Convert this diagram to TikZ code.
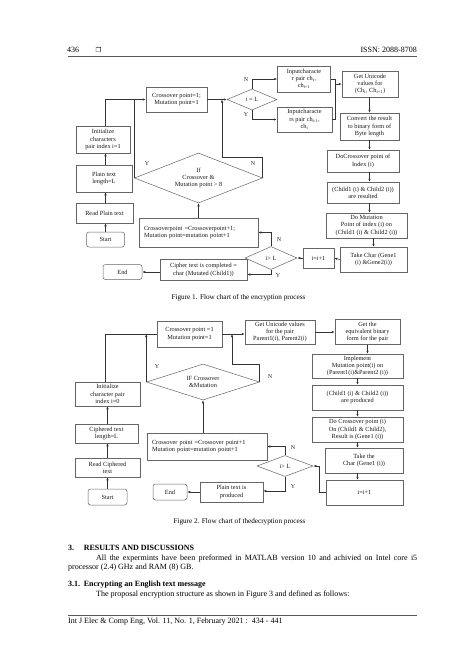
\documentclass[tikz,border=0pt]{standalone}
\usepackage{fontspec}
\setmainfont{Liberation Serif}
\newfontfamily\djv{DejaVu Sans}
\usetikzlibrary{shapes.geometric,arrows.meta}
\newcommand\fcs{\fontsize{6.3}{7.3}\selectfont}
\newcommand\lblf{\fontsize{6}{7}\selectfont}
\newcommand\bodyf{\fontsize{8}{9.2}\selectfont}
\newcommand\capf{\fontsize{7.2}{8.6}\selectfont}
\tikzset{
  box/.style={draw=black!60, line width=0.5pt, align=center, inner sep=0pt, font=\fcs, text=black!90},
  rbox/.style={box, rounded corners=2.5pt},
  lbox/.style={box, align=left, inner xsep=5pt},
  dia/.style={draw=black!60, line width=0.5pt, diamond, inner sep=0pt, align=center, font=\fcs, text=black!90},
  conna/.style={color=black!80, line width=0.55pt, -{Latex[length=3pt,width=2.4pt]}},
  conn/.style={color=black!80, line width=0.55pt},
  lbl/.style={font=\lblf, text=black!85, inner sep=0pt},
  txt/.style={anchor=base west, inner sep=0pt, font=\bodyf},
  hrule/.style={draw=black!65, line width=0.9pt}
}
\begin{document}
\begin{tikzpicture}[x=1pt,y=-1pt]
\useasboundingbox (0,0) rectangle (474,670);
\fill[white] (0,0) rectangle (474,670);

% ---------- header ----------
\node[txt] (pg) at (67,52.5) {436};
\node[anchor=base west, inner sep=0pt, font=\djv\fontsize{6.5}{7}\selectfont] (sq) at (95.5,52.5) {❐};
\node[anchor=base east, inner sep=0pt, font=\bodyf] (issn) at (417,52.5) {ISSN: 2088-8708};
\draw[hrule] (68,56.5) -- (417,56.5);

% ================= FIGURE 1 =================
\node[box, minimum width=61pt, minimum height=25pt] (cp1) at (176.5,99.5) {Crossover point=1;\\Mutation point=1};
\node[dia, aspect=2.4, minimum width=50pt, minimum height=21pt] (iL) at (252,99.5) {i = L};
\node[box, minimum width=53pt, minimum height=26pt] (in1) at (304,79) {Inputcharacte\\r pair ch\textsubscript{i},\\ch\textsubscript{i+1}};
\node[box, minimum width=55pt, minimum height=25pt] (in2) at (304.5,119.5) {Inputcharacte\\rs pair ch\textsubscript{i-1},\\ch\textsubscript{i}};
\node[box, minimum width=56pt, minimum height=26pt] (uni) at (370,84) {Get Unicode\\values for\\(Ch\textsubscript{i}, Ch\textsubscript{i+1})};
\node[box, minimum width=59pt, minimum height=27pt] (conv) at (369.5,126.5) {Convert the result\\to binary form of\\Byte length};
\node[box, minimum width=72pt, minimum height=22pt] (docr) at (363,161) {DoCrossover point of\\Index (i)};
\node[box, minimum width=72pt, minimum height=21pt] (child) at (363,192.5) {(Child1 (i) \& Child2 (i))\\are resulted};
\node[box, minimum width=81pt, minimum height=25pt] (mut) at (366.5,225.5) {Do Mutation\\Point of index (i) on\\(Child1 (i) \& Child2 (i))};
\node[box, minimum width=67pt, minimum height=25pt] (take) at (373.5,259.5) {Take Char (Gene1\\(i) \&Gene2(i))};
\node[box, minimum width=31pt, minimum height=20pt] (inc) at (318.5,258) {i=i+1};
\node[dia, aspect=2.4, minimum width=52pt, minimum height=23pt] (iL2) at (271,258) {i> L};
\node[lbox, text width=109pt, minimum height=29pt] (cpinc) at (198.5,232.5) {Crossoverpoint =Crossoverpoint+1;\\Mutation point=mutation point+1};
\node[dia, aspect=2.56, minimum width=128pt, minimum height=50pt] (bigdia) at (198.5,178) {If\\Crossover \&\\Mutation point > 8};
\node[box, minimum width=87pt, minimum height=21pt] (cipher) at (203.5,270) {Cipher text is completed =\\char (Mutated (Child1))};
\node[rbox, minimum width=39pt, minimum height=15pt] (end1) at (122.5,272) {End};
\node[box, minimum width=54pt, minimum height=27pt] (init1) at (103,139.5) {Initialize\\characters\\pair index i=1};
\node[box, minimum width=56pt, minimum height=27pt] (plain1) at (104,178.5) {Plain text\\length=L};
\node[box, minimum width=57pt, minimum height=20pt] (read1) at (104.5,213) {Read Plain text};
\node[rbox, minimum width=38pt, minimum height=15pt] (start1) at (105.5,239.5) {Start};

\coordinate (j1) at (335,84);
\coordinate (n1) at (222,157);
\coordinate (yb1) at (271,274.5);

\draw[conna] (start1.north) -- (read1.south -| start1.north);
\draw[conna] (read1.north -| start1.north) -- (plain1.south -| start1.north);
\draw[conna] (plain1.north -| start1.north) -- (init1.south -| start1.north);
\draw[conna] (init1.north -| start1.north) |- (cp1.west);
\draw[conn] (bigdia.west) -- (bigdia.west |- cp1.west);
\draw[conna] (cp1.east) -- (iL.west);
\draw[conna] (bigdia.east) |- (n1) -- (n1 |- cp1.east);
\draw[conna] (iL.north) |- (in1.west);
\draw[conna] (iL.south) |- (in2.west);
\draw[conn] (in1.east) -- (in1.east -| j1);
\draw[conn] (in2.east) -| (j1 |- in1.east);
\draw[conna] (j1) -- (j1 -| uni.west);
\draw[conna] (uni.south -| conv.north) -- (conv.north);
\draw[conna] (conv.south) -- (conv.south |- docr.north);
\draw[conna] (docr.south -| conv.south) -- (child.north -| conv.south);
\draw[conna] (child.south -| conv.south) -- (mut.north -| conv.south);
\draw[conna] (mut.south -| take.north) -- (take.north);
\draw[conna] (take.west) -- (inc.east);
\draw[conna] (inc.west) -- (iL2.east);
\draw[conna] (iL2.north) |- (cpinc.east);
\draw[conna] (iL2.south) -- (yb1) -- (yb1 -| cipher.east);
\draw[conna] (cipher.west |- end1.east) -- (end1.east);
\draw[conna] (cpinc.north) -- (bigdia.south);

\node[lbl] (lN1) at (246,80) {N};
\node[lbl] (lY1) at (246,115) {Y};
\node[lbl] (lY2) at (147,164) {Y};
\node[lbl] (lN2) at (253,164) {N};
\node[lbl] (lN3) at (279,240) {N};
\node[lbl] (lY3) at (278,276) {Y};

\node[anchor=base, inner sep=0pt, font=\capf] (cap1) at (238.5,299.5) {Figure 1. Flow chart of the encryption process};

% ================= FIGURE 2 =================
\node[box, minimum width=65pt, minimum height=26pt] (cp2) at (189.5,334) {Crossover point =1\\Mutation point=1};
\node[box, minimum width=70pt, minimum height=24pt] (uni2) at (280,332) {Get Unicode values\\for the pair\\Parent1(i), Parent2(i)};
\node[box, minimum width=65pt, minimum height=25pt] (bin2) at (367.5,332) {Get the\\equivalent binary\\form for the pair};
\node[box, minimum width=91pt, minimum height=24pt] (impl) at (357.5,366) {Implement\\Mutation point(i) on\\(Parent1(i)\&Parent2 (i))};
\node[box, minimum width=91pt, minimum height=25pt] (child2) at (357.5,397.5) {(Child1 (i) \& Child2 (i))\\are produced};
\node[box, minimum width=91pt, minimum height=25pt] (docr2) at (357.5,429.5) {Do Crossover point (i)\\On (Child1 \& Child2),\\Result is (Gene1 (i))};
\node[box, minimum width=78pt, minimum height=25pt] (take2) at (364,460.5) {Take the\\Char (Gene1 (i))};
\node[box, minimum width=77pt, minimum height=25pt] (inc2) at (364.5,492.5) {i=i+1};
\node[dia, aspect=2.6, minimum width=56pt, minimum height=21pt] (iL3) at (285,466) {i> L};
\node[lbox, text width=110pt, minimum height=27pt] (cpinc2) at (207,446.5) {Crossover point =Crossover point+1\\Mutation point=mutation point+1};
\node[box, minimum width=63pt, minimum height=20pt] (plain2) at (231.5,492) {Plain text is\\produced};
\node[rbox, minimum width=34pt, minimum height=16pt] (end2) at (170,492) {End};
\node[dia, aspect=3.1, minimum width=113pt, minimum height=36pt] (bigdia2) at (203,382) {IF Crossover\\\&Mutation};
\node[box, minimum width=65pt, minimum height=24pt] (init2) at (107.5,394) {Initialize\\character pair\\index i=0};
\node[box, minimum width=63pt, minimum height=19pt] (ciph2) at (106.5,433.5) {Ciphered text\\length=L};
\node[box, minimum width=65pt, minimum height=19pt] (read2) at (107.5,467.5) {Read Ciphered\\text};
\node[rbox, minimum width=39pt, minimum height=16pt] (start2) at (107.5,497) {Start};

\coordinate (n2) at (232,364);
\coordinate (jr) at (319,492.5);
\coordinate (yb2) at (285,491);
\coordinate (lx2) at (105,0);

\draw[conna] (start2.north) -- (read2.south -| start2.north);
\draw[conna] (read2.north -| start2.north) -- (ciph2.south -| start2.north);
\draw[conna] (ciph2.north -| start2.north) -- (init2.south -| start2.north);
\draw[conn] (init2.north -| lx2) |- (cp2.west);
\draw[conna] (bigdia2.west) -- (bigdia2.west |- cp2.west);
\draw[conna] (cp2.east) -- (cp2.east -| uni2.west);
\draw[conna] (bigdia2.east) |- (n2) -- (n2 |- cp2.east);
\draw[conna] (uni2.east) -- (bin2.west);
\draw[conna] (bin2.south) -- (bin2.south |- impl.north);
\draw[conna] (impl.south) -- (child2.north);
\draw[conna] (child2.south) -- (docr2.north);
\draw[conna] (docr2.south) -- (docr2.south |- take2.north);
\draw[conna] (take2.south -| docr2.south) -- (inc2.north -| docr2.south);
\draw[conna] (inc2.west) -- (jr) |- (iL3.east);
\draw[conna] (iL3.north) |- (cpinc2.east);
\draw[conna] (iL3.south) -- (yb2) -- (yb2 -| plain2.east);
\draw[conna] (plain2.west) -- (end2.east);
\draw[conna] (cpinc2.north -| bigdia2.south) -- (bigdia2.south);

\node[lbl] (lY4) at (157,367) {Y};
\node[lbl] (lN4) at (270,377) {N};
\node[lbl] (lN5) at (293,448) {N};
\node[lbl] (lY5) at (293,487) {Y};

\node[anchor=base, inner sep=0pt, font=\capf] (cap2) at (239.5,523.5) {Figure 2. Flow chart of thedecryption process};

% ---------- body text ----------
\node[anchor=north west, inner sep=0pt, text width=349pt, align=justify, font=\bodyf] (body) at (68,545.4) {%
\textbf{3.\hspace{9.6pt}RESULTS AND DISCUSSIONS}\par
\hspace*{28pt}All the expermints have been preformed in MATLAB version 10 and achivied on Intel core i5 \mbox{processor} (2.4) GHz and RAM (8) GB.\par
\vspace{8.3pt}%
\textbf{3.1.\hspace{3.6pt}Encrypting an English text message}\par
\hspace*{28pt}The proposal encryption structure as shown in Figure 3 and defined as follows:\par};
\draw[hrule] (68,615) -- (417,615);
\node[txt] (foot) at (68,623) {Int J Elec \& Comp Eng, Vol. 11, No. 1, February 2021 :\hspace{4pt}434 - 441};
\end{tikzpicture}
\end{document}
